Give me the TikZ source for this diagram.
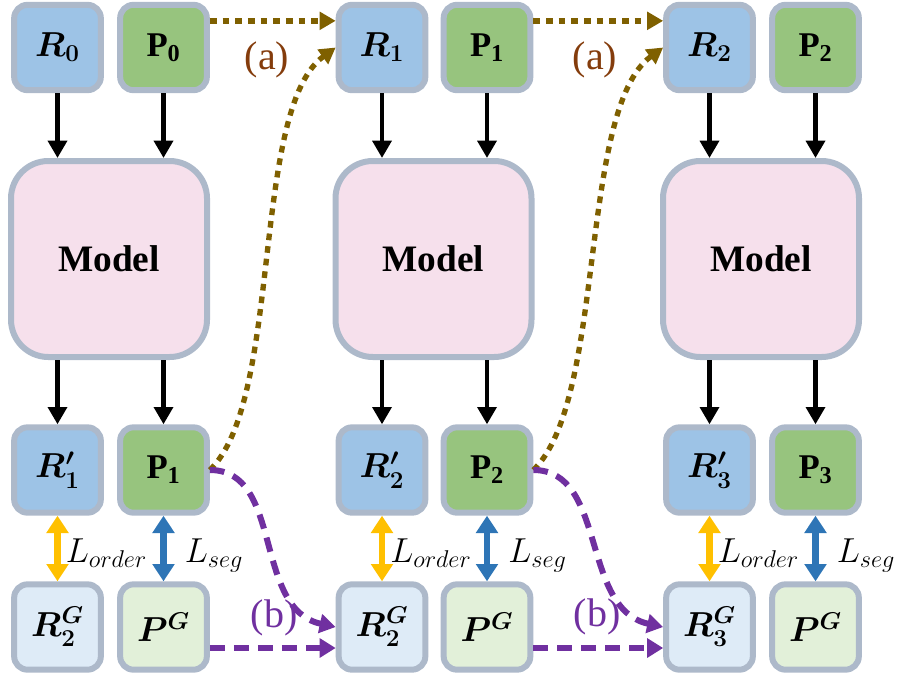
\RequirePackage{fix-cm}
\documentclass[tikz,border=0pt]{standalone}
\usepackage{amsmath,amssymb,bm}
\usepackage{fontspec}
\setmainfont{Liberation Serif}
\usepackage{tikz}
\usetikzlibrary{arrows.meta,positioning}

\definecolor{boxline}{RGB}{173,185,202}
\definecolor{rfill}{RGB}{157,195,230}
\definecolor{pfill}{RGB}{151,196,126}
\definecolor{modfill}{RGB}{246,224,236}
\definecolor{rgfill}{RGB}{222,235,247}
\definecolor{pgfill}{RGB}{226,240,217}
\definecolor{ordcol}{RGB}{255,192,0}
\definecolor{segcol}{RGB}{46,117,182}
\definecolor{nxtcol}{RGB}{127,96,0}
\definecolor{acol}{RGB}{132,60,12}
\definecolor{gtcol}{RGB}{112,48,160}

\tikzset{
  smallbox/.style={draw=boxline, line width=4.5pt, rounded corners=10pt, minimum width=65pt, minimum height=64pt, inner sep=0pt, font=\fontsize{26}{28}\selectfont\boldmath},
  rbox/.style={smallbox, fill=rfill},
  pbox/.style={smallbox, fill=pfill},
  rgbox/.style={smallbox, fill=rgfill},
  pgbox/.style={smallbox, fill=pgfill},
  modbox/.style={draw=boxline, line width=4.5pt, fill=modfill, rounded corners=28pt, minimum width=147pt, minimum height=147pt, font=\fontsize{28}{30}\selectfont\bfseries},
  blk/.style={line width=3.5pt, -{Triangle[width=14pt,length=13pt]}},
  ordarr/.style={color=ordcol, line width=5pt, {Triangle[width=16pt,length=13pt]}-{Triangle[width=16pt,length=13pt]}},
  segarr/.style={color=segcol, line width=5pt, {Triangle[width=16pt,length=13pt]}-{Triangle[width=16pt,length=13pt]}},
  nxtarr/.style={color=nxtcol, line width=4pt, dash pattern=on 5pt off 4.5pt, -{Triangle[width=13pt,length=12pt]}},
  gtarr/.style={color=gtcol, line width=4.5pt, dash pattern=on 11pt off 7pt, -{Triangle[width=14pt,length=12pt]}},
  losslbl/.style={inner sep=0pt, anchor=base west, font=\fontsize{26}{28}\selectfont},
  steplbl/.style={inner sep=0pt, font=\fontsize{30}{32}\selectfont}
}

\begin{document}
\begin{tikzpicture}[x=0.75pt,y=0.75pt,yscale=-1,xscale=1]
\useasboundingbox (0,0) rectangle (924,675);

%Step 1
\node (R0) at (57.5,47.5) [rbox] {$R_0$};
\node (P0) at (163.5,47.5) [pbox] {\textbf{P}\textsubscript{\textbf{0}}};
\node (Mod1) at (109,259) [modbox] {Model};
\node (Rout1) at (57.5,470) [rbox] {$R'_1$};
\node (Pout1) at (163.5,470) [pbox] {\textbf{P}\textsubscript{\textbf{1}}};
\node (RGt1) at (57.5,627) [rgbox] {$R^G_2$};
\node (PGt1) at (163.5,627) [pgbox] {$P^G$};

%Step 2
\node (R1) at (382,47.5) [rbox] {$R_1$};
\node (P1) at (487,47.5) [pbox] {\textbf{P}\textsubscript{\textbf{1}}};
\node (Mod2) at (433.5,259) [modbox] {Model};
\node (Rout2) at (382,470) [rbox] {$R'_2$};
\node (Pout2) at (487,470) [pbox] {\textbf{P}\textsubscript{\textbf{2}}};
\node (RGt2) at (382,627) [rgbox] {$R^G_2$};
\node (PGt2) at (487,627) [pgbox] {$P^G$};

%Step 3
\node (R2) at (709.5,47.5) [rbox] {$R_2$};
\node (P2) at (815.5,47.5) [pbox] {\textbf{P}\textsubscript{\textbf{2}}};
\node (Mod3) at (761,259) [modbox] {Model};
\node (Rout3) at (709.5,470) [rbox] {$R'_3$};
\node (Pout3) at (815.5,470) [pbox] {\textbf{P}\textsubscript{\textbf{3}}};
\node (RGt3) at (709.5,627) [rgbox] {$R^G_3$};
\node (PGt3) at (815.5,627) [pgbox] {$P^G$};

% Model in / out
\draw [blk] (R0.south) -- (R0.south |- Mod1.north);
\draw [blk] (P0.south) -- (P0.south |- Mod1.north);
\draw [blk] (Mod1.south -| Rout1) -- (Rout1.north);
\draw [blk] (Mod1.south -| Pout1) -- (Pout1.north);
\draw [blk] (R1.south) -- (R1.south |- Mod2.north);
\draw [blk] (P1.south) -- (P1.south |- Mod2.north);
\draw [blk] (Mod2.south -| Rout2) -- (Rout2.north);
\draw [blk] (Mod2.south -| Pout2) -- (Pout2.north);
\draw [blk] (R2.south) -- (R2.south |- Mod3.north);
\draw [blk] (P2.south) -- (P2.south |- Mod3.north);
\draw [blk] (Mod3.south -| Rout3) -- (Rout3.north);
\draw [blk] (Mod3.south -| Pout3) -- (Pout3.north);

% Losses
\draw [ordarr] (Rout1.south) -- (RGt1.north);
\draw [segarr] (Pout1.south) -- (PGt1.north);
\draw [ordarr] (Rout2.south) -- (RGt2.north);
\draw [segarr] (Pout2.south) -- (PGt2.north);
\draw [ordarr] (Rout3.south) -- (RGt3.north);
\draw [segarr] (Pout3.south) -- (PGt3.north);
\node (lo1) at (65.5,562) [losslbl] {$L_{order}$};
\node (ls1) at (184.5,562) [losslbl] {$L_{seg}$};
\node (lo2) at (390,562) [losslbl] {$L_{order}$};
\node (ls2) at (508,562) [losslbl] {$L_{seg}$};
\node (lo3) at (717.5,562) [losslbl] {$L_{order}$};
\node (ls3) at (836.5,562) [losslbl] {$L_{seg}$};

% (a) next step inputs
\draw [nxtarr] ([yshift=-20pt]P0.east) -- ([yshift=-20pt]R1.west);
\draw [nxtarr] (Pout1.east) .. controls +(73,-70) and +(-85,62) .. (R1.west);
\draw [nxtarr] ([yshift=-20pt]P1.east) -- ([yshift=-20pt]R2.west);
\draw [nxtarr] (Pout2.east) .. controls +(73,-70) and +(-85,62) .. (R2.west);
\node (a1) at (267,60) [steplbl, text=acol] {(a)};
\node (a2) at (595,60) [steplbl, text=acol] {(a)};

% (b) next step targets
\draw [gtarr] (Pout1.east) .. controls +(74,0) and +(-83,-18) .. (RGt2.west);
\draw [gtarr] ([yshift=15.75pt]PGt1.east) -- ([yshift=15.75pt]RGt2.west);
\draw [gtarr] (Pout2.east) .. controls +(74,0) and +(-83,-18) .. (RGt3.west);
\draw [gtarr] ([yshift=15.75pt]PGt2.east) -- ([yshift=15.75pt]RGt3.west);
\node (b1) at (274,618) [steplbl, text=gtcol] {(b)};
\node (b2) at (597,617) [steplbl, text=gtcol] {(b)};
\end{tikzpicture}
\end{document}
